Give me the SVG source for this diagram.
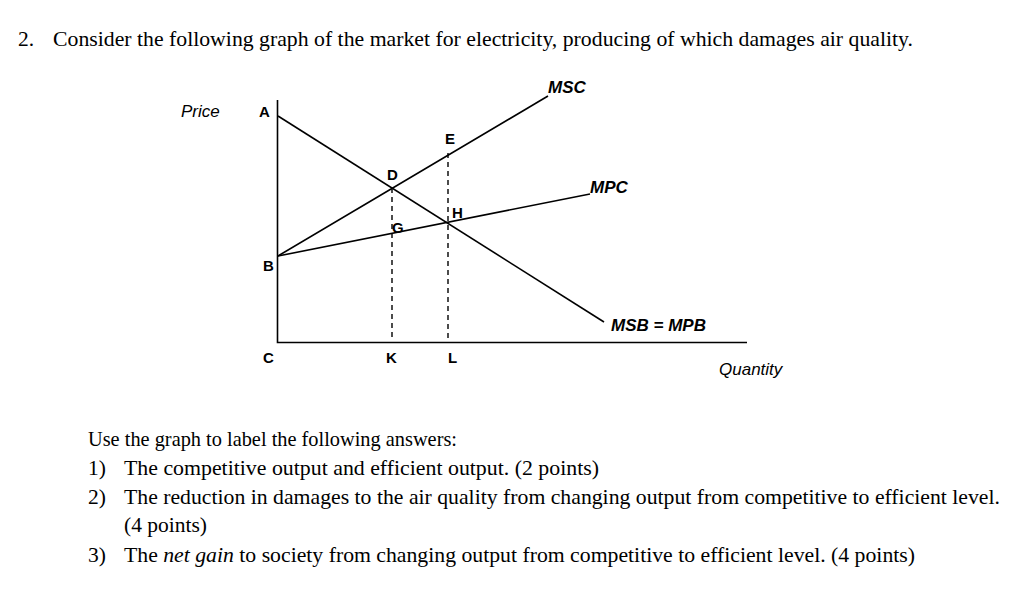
<svg xmlns="http://www.w3.org/2000/svg" width="1024" height="602" viewBox="0 0 1024 602">
<style>
.t{font-family:"Liberation Serif",serif;font-size:21.5px;fill:#000}
.l{font-family:"Liberation Sans",sans-serif;font-size:15px;font-weight:bold;fill:#000}
.i{font-family:"Liberation Sans",sans-serif;font-size:17px;font-style:italic;fill:#000}
.c{stroke:#000;stroke-width:1.6;fill:none}
.d{stroke:#000;stroke-width:1.4;stroke-dasharray:5,4;fill:none}
</style>
<rect width="1024" height="602" fill="#fff"/>
<text class="t" x="18" y="46">2.</text>
<text class="t" x="53" y="46" textLength="860" lengthAdjust="spacingAndGlyphs">Consider the following graph of the market for electricity, producing of which damages air quality.</text>
<g id="axes">
<path class="c" d="M277.5 100 V342.5 H747"/>
</g>
<g id="connectors">
<path class="c" d="M278 116 L604 322"/>
<path class="c" d="M278 256 L548 96"/>
<path class="c" d="M278 256 L590 194"/>
<path class="d" d="M392 188 V338"/>
<path class="d" d="M448 153 V338"/>
</g>
<g id="labels">
<text class="i" x="181" y="117">Price</text>
<text class="l" x="259" y="117">A</text>
<text class="l" x="445" y="144">E</text>
<text class="l" x="387" y="180">D</text>
<text class="l" x="452" y="218">H</text>
<text class="l" x="392" y="233">G</text>
<text class="l" x="263" y="271">B</text>
<text class="l" x="263" y="363">C</text>
<text class="l" x="386" y="363">K</text>
<text class="l" x="448" y="363">L</text>
<text class="i" x="548" y="93" font-weight="bold">MSC</text>
<text class="i" x="590" y="193" font-weight="bold">MPC</text>
<text class="i" x="611" y="331" font-weight="bold">MSB = MPB</text>
<text class="i" x="719" y="375">Quantity</text>
</g>
<text class="t" x="88" y="446" textLength="369" lengthAdjust="spacingAndGlyphs">Use the graph to label the following answers:</text>
<text class="t" x="88" y="475">1)</text>
<text class="t" x="124" y="475" textLength="475" lengthAdjust="spacingAndGlyphs">The competitive output and efficient output. (2 points)</text>
<text class="t" x="88" y="504">2)</text>
<text class="t" x="124" y="504" textLength="876" lengthAdjust="spacingAndGlyphs">The reduction in damages to the air quality from changing output from competitive to efficient level.</text>
<text class="t" x="124" y="532">(4 points)</text>
<text class="t" x="88" y="562">3)</text>
<text class="t" x="124" y="562" textLength="791" lengthAdjust="spacingAndGlyphs">The <tspan font-style="italic">net gain</tspan> to society from changing output from competitive to efficient level. (4 points)</text>
</svg>
